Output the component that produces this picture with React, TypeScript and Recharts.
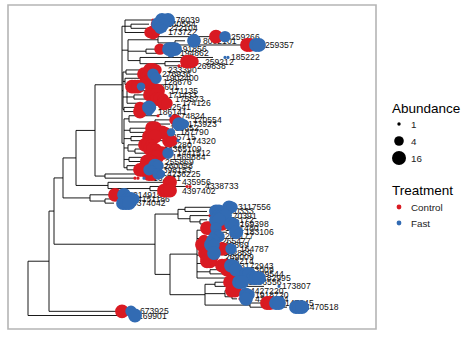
import React from 'react'
import { ScatterChart, Scatter, XAxis, YAxis, ZAxis, ReferenceLine, ReferenceArea } from 'recharts'

// tree topology, newick-style; the number after ':' is the node depth (absolute), not a branch length
const cladeUa = '(176039:153,(260584:149,272104:151):131,173722:150):125'
const cladeUb =
  '((259266:213,(8002101:185,259357:247):175):158,(191856:160,194862:162):146,(185222:213,(259212:187,269838:179):165):140):128'
const cladeUc =
  '((233390:150,276936:144):126,(1902400:147,(128676:145,218601:132):128):125,(171135:152,(171433:150,175573:157):134,174126:164):127,(1192541:140,186141:140):124):123'
const cladeUd =
  '((174824:158,(170554:175,173923:170):155):129,(188652:152,187790:162):130,(185715:149,174320:169):131,(172280:145,(4365109:150,1441512:159):135):128,(1569884:154,255869:147):129,(260058:146,4398153:140):127):124'
const cladeV = '(4236225:149,162911:135):105'
const cladeK = '(435956:164,(4338733:187,4397402:164):150):108'
const cladeM = '(214919:115,(4151186:119,4374042:114):105):90'
const cladeLa = '((3117556:220,170333:207):185,(170391:210,(276172:207,169398:222):200):190):178'
const cladeLb1 =
  '((1731480:207,183106:227):205,(264177:207,265477:204):203,(216869:202,164787:222):201,(382869:205,269009:207):202,(178214:207,3172943:222):205,(173009:227,189544:237):210,182995:244):197'
const cladeLb2 = '((3206556:230,173807:264):215,(4427220:232,(1918720:237,4346374:237):232):225,(147945:267,4470518:287):250):205'

const treeNewick =
  `(((((((${cladeUa},${cladeUb},${cladeUc},${cladeUd}):122,${cladeV}):95,${cladeK}):76,${cladeM}):63,` +
  `(${cladeLa},(${cladeLb1},${cladeLb2}):170):155):54,673925:122):49,169901:120):28;`

// abundance per sample: Control 1-3, Fast 1-3 (0 = not seen)
const tipSamples: Record<string, string> = {
  '176039': '1 0 0 16 9 16',
  '260584': '0 0 4 16 16 9',
  '272104': '0 0 0 9 4 0',
  '173722': '9 16 4 0 0 0',
  '259266': '0 16 0 0 9 0',
  '8002101': '0 0 0 16 0 0',
  '259357': '16 16 9 16 16 0',
  '191856': '9 0 0 16 16 16',
  '194862': '0 0 0 4 0 0',
  '185222': '0 0 0 0 1 1',
  '259212': '16 16 9 0 0 0',
  '269838': '1 1 1 0 0 0',
  '233390': '16 16 9 0 0 0',
  '276936': '16 16 0 9 0 0',
  '1902400': '16 9 16 9 0 0',
  '128676': '9 16 0 0 0 0',
  '218601': '16 16 16 4 0 0',
  '171135': '16 16 16 0 0 0',
  '171433': '16 16 16 0 0 0',
  '175573': '16 16 9 0 0 0',
  '174126': '16 9 0 0 0 0',
  '1192541': '9 0 0 16 4 0',
  '186141': '16 0 0 4 1 0',
  '174824': '1 0 0 0 1 0',
  '170554': '9 4 0 0 0 0',
  '173923': '0 0 0 16 9 4',
  '188652': '16 16 0 0 0 0',
  '187790': '16 9 0 4 0 0',
  '185715': '16 16 16 0 0 0',
  '174320': '16 9 0 1 0 0',
  '172280': '16 16 9 0 0 0',
  '4365109': '16 16 9 0 0 0',
  '1441512': '16 16 0 9 0 0',
  '1569884': '16 16 0 0 0 0',
  '255869': '16 16 9 0 0 0',
  '260058': '16 9 0 16 9 0',
  '4398153': '16 16 0 9 4 1',
  '4236225': '16 16 0 9 4 0',
  '162911': '1 1 0 1 0 0',
  '435956': '1 0 16 0 0 0',
  '4338733': '1 1 0 0 0 0',
  '4397402': '16 16 16 0 0 0',
  '214919': '16 0 0 16 0 0',
  '4151186': '0 0 0 16 16 9',
  '4374042': '0 0 0 16 16 16',
  '3117556': '0 0 0 16 9 0',
  '170333': '0 0 0 16 16 0',
  '170391': '1 0 0 16 16 16',
  '276172': '0 0 0 16 16 0',
  '169398': '16 0 0 16 9 0',
  '1731480': '16 16 0 9 0 0',
  '183106': '0 0 0 16 4 0',
  '264177': '0 0 0 16 9 0',
  '265477': '9 0 0 16 4 0',
  '216869': '16 0 0 16 9 0',
  '164787': '16 9 0 9 0 0',
  '382869': '16 16 0 16 0 0',
  '269009': '16 16 9 0 0 0',
  '178214': '16 16 4 0 0 0',
  '3172943': '16 16 0 16 9 0',
  '173009': '16 16 16 16 0 0',
  '189544': '16 16 0 16 16 0',
  '182995': '0 0 0 16 16 16',
  '3206556': '16 16 0 16 16 0',
  '173807': '0 0 0 0 0 1',
  '4427220': '16 16 0 0 0 0',
  '1918720': '0 0 0 16 9 0',
  '4346374': '0 1 0 16 0 0',
  '147945': '16 16 0 16 16 0',
  '4470518': '0 0 0 16 16 16',
  '673925': '16 0 0 9 0 0',
  '169901': '0 0 0 0 0 16',
}

const treatments = ['Control', 'Fast']
const treatmentColors = ['#D91A22', '#326BB3']
const abundanceBreaks = [1, 4, 16]

const W = 474
const H = 338
const PANEL = { left: 8, top: 5, right: 376, bottom: 329 }
const SLOT = 3
const LABEL_OFFSET = 18

type TreeNode = { name: string; depth: number; children: TreeNode[]; y: number }

function parseNewick(s: string): TreeNode {
  let i = 0
  const read = (): TreeNode => {
    const n: TreeNode = { name: '', depth: 0, children: [], y: 0 }
    if (s[i] === '(') {
      i++
      n.children.push(read())
      while (s[i] === ',') {
        i++
        n.children.push(read())
      }
      i++
    }
    while (i < s.length && !':,);'.includes(s[i])) n.name += s[i++]
    if (s[i] === ':') {
      i++
      let num = ''
      while (i < s.length && !',);'.includes(s[i])) num += s[i++]
      n.depth = parseFloat(num)
    }
    return n
  }
  return read()
}

const root = parseNewick(treeNewick)
const tips: TreeNode[] = []
const segments: { x1: number; y1: number; x2: number; y2: number }[] = []

function layout(n: TreeNode) {
  if (!n.children.length) {
    tips.push(n)
    n.y = tips.length
    return
  }
  n.children.forEach(layout)
  const first = n.children[0]
  const last = n.children[n.children.length - 1]
  n.y = (first.y + last.y) / 2
  segments.push({ x1: n.depth, y1: first.y, x2: n.depth, y2: last.y })
  n.children.forEach((c) => segments.push({ x1: n.depth, y1: c.y, x2: c.depth, y2: c.y }))
}
layout(root)

const nTips = tips.length
const yStep = (315.5 - 20) / (nTips - 1)
const yDomain = [1 - (20 - PANEL.top) / yStep, nTips + (PANEL.bottom - 315.5) / yStep]

const labelData = tips.map((t) => ({ x: t.depth + LABEL_OFFSET, y: t.y, label: t.name }))
const pointData = treatments.map((_, ti) =>
  tips.flatMap((t) =>
    (tipSamples[t.name] || '')
      .split(' ')
      .map(Number)
      .map((z, k) => ({ x: t.depth + k * SLOT, y: t.y, z, k }))
      .filter((p) => p.z > 0 && (ti === 0 ? p.k < 3 : p.k >= 3)),
  ),
)

const FONT = '"Liberation Sans", Arial, Helvetica, sans-serif'

const TipLabel = (p: any) => (
  <text x={p.cx} y={p.cy} dy={3} fontSize={8.6} fontFamily={FONT} fill="#111">
    {p.payload.label}
  </text>
)

function Legend() {
  const lx = PANEL.right + 16
  const kx = lx + 7
  const tx = lx + 19
  const sizes = [1.7, 4.8, 7]
  const rows = [124, 141, 158]
  return (
    <svg width={W} height={H} style={{ position: 'absolute', left: 0, top: 0, pointerEvents: 'none' }}>
      <text x={lx} y={113} fontSize={13.5} fontFamily={FONT} fill="#000">
        Abundance
      </text>
      {abundanceBreaks.map((b, i) => (
        <g key={b}>
          <circle cx={kx} cy={rows[i]} r={sizes[i]} fill="#000" />
          <text x={tx} y={rows[i] + 3.5} fontSize={9.8} fontFamily={FONT} fill="#222">
            {b}
          </text>
        </g>
      ))}
      <text x={lx} y={195} fontSize={13.5} fontFamily={FONT} fill="#000">
        Treatment
      </text>
      {treatments.map((t, i) => (
        <g key={t}>
          <circle cx={kx} cy={207 + i * 16} r={2.4} fill={treatmentColors[i]} />
          <text x={tx} y={210.5 + i * 16} fontSize={9.8} fontFamily={FONT} fill="#222">
            {t}
          </text>
        </g>
      ))}
    </svg>
  )
}

export default function App() {
  return (
    <div style={{ position: 'absolute', left: 0, top: 0, width: W, height: H, background: '#fff' }}>
      <ScatterChart
        width={W}
        height={H}
        margin={{ top: PANEL.top, left: PANEL.left, right: W - PANEL.right, bottom: H - PANEL.bottom }}
      >
        <XAxis type="number" dataKey="x" domain={[PANEL.left, PANEL.right]} hide allowDataOverflow />
        <YAxis type="number" dataKey="y" domain={yDomain} reversed hide allowDataOverflow />
        <ZAxis type="number" dataKey="z" domain={[1, 16]} range={[8, 150]} scale="sqrt" />
        <ReferenceArea
          x1={PANEL.left}
          x2={PANEL.right}
          y1={yDomain[0]}
          y2={yDomain[1]}
          fill="none"
          stroke="#b5b5b5"
          strokeWidth={1.6}
          ifOverflow="visible"
        />
        {segments.map((s, i) => (
          <ReferenceLine
            key={i}
            segment={[
              { x: s.x1, y: s.y1 },
              { x: s.x2, y: s.y2 },
            ]}
            stroke="#000"
            strokeWidth={0.9}
            ifOverflow="visible"
          />
        ))}
        <Scatter data={labelData} shape={TipLabel} isAnimationActive={false} />
        {treatments.map((t, i) => (
          <Scatter key={t} name={t} data={pointData[i]} fill={treatmentColors[i]} isAnimationActive={false} />
        ))}
      </ScatterChart>
      <Legend />
    </div>
  )
}
